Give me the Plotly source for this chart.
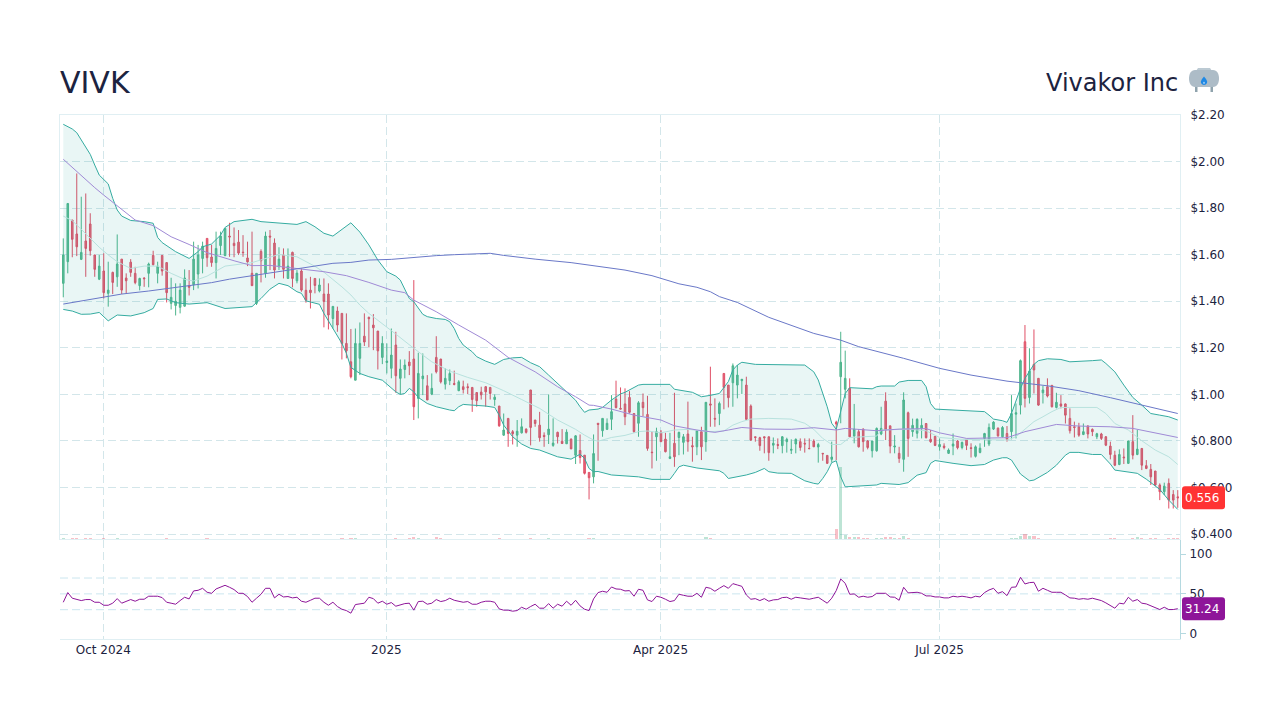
import plotly.graph_objects as go

# Daily OHLC bars, one per trading session
OPEN = [1.477,1.570,1.749,1.689,1.580,1.659,1.732,1.599,1.495,1.530,
1.434,1.524,1.505,1.581,1.500,1.568,1.520,1.467,1.500,1.520,
1.597,1.520,1.597,1.566,1.391,1.382,1.374,1.379,1.467,1.471,
1.517,1.584,1.670,1.590,1.566,1.639,1.596,1.680,1.649,1.654,
1.611,1.586,1.520,1.391,1.614,1.520,1.680,1.650,1.548,1.599,
1.498,1.610,1.488,1.530,1.447,1.448,1.498,1.444,1.431,1.431,
1.326,1.358,1.348,1.219,1.140,1.061,1.155,1.250,1.331,1.298,
1.272,1.159,1.137,1.112,1.212,1.069,1.107,1.139,1.152,0.983,
1.067,1.037,1.001,1.159,1.152,1.044,1.059,1.047,1.016,1.033,
1.033,1.030,1.008,1.010,1.033,1.030,0.978,0.950,0.825,0.897,
0.840,0.825,0.835,0.851,1.019,0.890,0.868,0.824,0.827,0.781,
0.837,0.799,0.788,0.808,0.739,0.759,0.739,0.665,0.646,0.876,
0.844,0.850,0.893,0.980,0.940,0.959,0.987,0.918,0.876,0.966,
0.914,0.752,0.818,0.838,0.808,0.725,0.790,0.815,0.794,0.830,
0.780,0.775,0.840,0.797,0.959,0.897,0.918,1.090,1.040,1.050,
1.040,1.059,1.040,0.950,0.818,0.814,0.818,0.818,0.782,0.785,
0.780,0.797,0.760,0.787,0.797,0.790,0.768,0.800,0.774,0.747,
0.738,0.721,0.881,1.076,1.022,1.026,0.821,0.840,0.851,0.800,
0.758,0.758,0.830,0.971,0.865,0.774,0.747,0.721,0.921,0.840,
0.833,0.854,0.875,0.807,0.820,0.775,0.778,0.747,0.778,0.800,
0.772,0.807,0.771,0.734,0.751,0.811,0.787,0.851,0.855,0.818,
0.832,0.840,0.915,0.954,1.226,0.987,1.129,1.069,1.007,1.033,
1.039,0.944,0.959,0.959,0.897,0.861,0.861,0.828,0.864,0.850,
0.818,0.830,0.818,0.778,0.739,0.699,0.731,0.704,0.797,0.742,
0.768,0.694,0.678,0.671,0.611,0.582,0.618,0.570,0.560]

HIGH = [1.670,1.820,1.749,1.949,1.849,1.863,1.778,1.599,1.599,1.606,
1.570,1.527,1.687,1.581,1.520,1.581,1.548,1.501,1.503,1.566,
1.617,1.570,1.599,1.568,1.501,1.477,1.477,1.537,1.534,1.656,
1.642,1.656,1.670,1.642,1.699,1.699,1.713,1.737,1.717,1.706,
1.684,1.656,1.699,1.520,1.623,1.699,1.706,1.670,1.632,1.627,
1.627,1.613,1.534,1.541,1.498,1.505,1.498,1.498,1.498,1.477,
1.378,1.377,1.348,1.348,1.281,1.283,1.309,1.348,1.334,1.345,
1.272,1.250,1.219,1.283,1.269,1.150,1.150,1.186,1.491,1.179,
1.176,1.083,1.090,1.250,1.152,1.112,1.107,1.102,1.061,1.059,
1.047,1.030,1.008,1.033,1.036,1.030,1.000,0.950,0.918,0.897,
0.847,0.890,0.897,0.854,1.019,0.890,0.925,0.837,1.000,0.897,
0.840,0.851,0.850,0.811,0.825,0.828,0.739,0.665,0.828,0.876,
0.897,0.897,0.997,1.059,1.030,1.026,1.014,0.918,0.971,1.004,
0.994,0.840,0.857,0.847,0.835,0.835,1.007,0.840,0.830,0.969,
0.818,0.844,0.861,0.966,1.119,0.983,0.969,1.090,1.040,1.133,
1.126,1.066,1.076,0.957,0.818,0.818,0.818,0.818,0.815,0.811,
0.821,0.814,0.807,0.811,0.811,0.811,0.811,0.807,0.792,0.748,
0.738,0.797,0.887,1.269,1.188,1.069,0.959,0.851,0.854,0.804,
0.800,0.858,0.947,1.009,0.865,0.825,0.775,1.009,0.926,0.896,
0.897,0.897,0.875,0.847,0.820,0.811,0.790,0.768,0.832,0.804,
0.797,0.807,0.790,0.781,0.790,0.835,0.875,0.885,0.858,0.864,
0.864,0.997,0.961,1.150,1.298,1.198,1.279,1.069,1.036,1.069,
1.039,1.007,0.997,0.961,0.940,0.883,0.878,0.875,0.868,0.854,
0.835,0.835,0.821,0.797,0.758,0.764,0.768,0.800,0.911,0.847,
0.768,0.718,0.701,0.671,0.618,0.621,0.639,0.589,0.589]

LOW = [1.417,1.520,1.589,1.594,1.577,1.505,1.596,1.505,1.491,1.412,
1.377,1.431,1.462,1.431,1.434,1.505,1.473,1.447,1.462,1.460,
1.554,1.477,1.510,1.395,1.365,1.339,1.348,1.377,1.425,1.448,
1.455,1.520,1.548,1.548,1.498,1.599,1.594,1.591,1.589,1.599,
1.591,1.551,1.467,1.384,1.481,1.501,1.534,1.498,1.534,1.498,
1.498,1.460,1.477,1.441,1.394,1.369,1.434,1.438,1.288,1.279,
1.283,1.269,1.150,1.155,1.069,1.061,1.083,1.208,1.202,1.190,
1.107,1.130,1.090,1.069,1.007,1.000,1.069,1.083,0.890,0.897,
0.997,0.997,0.997,1.090,1.047,1.021,1.040,1.039,1.014,1.004,
1.001,0.925,0.947,0.978,0.947,0.978,0.951,0.861,0.822,0.775,
0.785,0.775,0.832,0.832,0.781,0.861,0.797,0.775,0.787,0.775,
0.789,0.787,0.787,0.765,0.701,0.703,0.656,0.549,0.618,0.715,
0.818,0.847,0.847,0.940,0.937,0.868,0.918,0.835,0.818,0.907,
0.758,0.682,0.715,0.797,0.751,0.722,0.689,0.739,0.742,0.754,
0.711,0.739,0.718,0.754,0.861,0.861,0.868,0.936,0.944,0.947,
0.983,1.002,0.890,0.800,0.797,0.758,0.747,0.715,0.747,0.765,
0.747,0.750,0.744,0.747,0.758,0.750,0.765,0.775,0.707,0.715,
0.701,0.708,0.718,0.876,0.983,0.818,0.790,0.772,0.754,0.764,
0.729,0.754,0.825,0.804,0.747,0.747,0.706,0.668,0.732,0.818,
0.811,0.811,0.811,0.792,0.778,0.758,0.764,0.744,0.739,0.764,
0.764,0.761,0.729,0.729,0.747,0.775,0.778,0.847,0.818,0.815,
0.797,0.807,0.811,0.914,0.944,0.961,1.004,0.951,0.961,0.987,
0.944,0.940,0.940,0.875,0.832,0.815,0.818,0.825,0.811,0.821,
0.808,0.804,0.778,0.721,0.692,0.696,0.701,0.701,0.721,0.739,
0.675,0.679,0.611,0.606,0.546,0.568,0.510,0.510,0.513]

CLOSE = [1.599,1.820,1.666,1.634,1.610,1.627,1.617,1.537,1.551,1.437,
1.448,1.481,1.560,1.448,1.488,1.524,1.480,1.498,1.497,1.560,
1.557,1.551,1.530,1.437,1.417,1.400,1.448,1.500,1.460,1.581,
1.599,1.637,1.587,1.566,1.627,1.680,1.713,1.676,1.639,1.607,
1.609,1.569,1.467,1.520,1.574,1.680,1.676,1.534,1.581,1.537,
1.551,1.498,1.521,1.448,1.405,1.437,1.468,1.470,1.399,1.341,
1.378,1.298,1.219,1.187,1.076,1.219,1.219,1.225,1.325,1.286,
1.187,1.219,1.143,1.169,1.080,1.109,1.126,1.123,0.947,1.090,
1.079,0.976,1.026,1.097,1.054,1.069,1.090,1.043,1.054,1.021,
1.029,0.978,0.973,0.998,1.011,1.004,0.988,0.865,0.847,0.832,
0.831,0.842,0.861,0.837,0.858,0.875,0.814,0.819,0.851,0.791,
0.818,0.789,0.838,0.766,0.822,0.729,0.661,0.642,0.746,0.871,
0.897,0.876,0.926,0.943,0.937,0.904,0.923,0.840,0.964,0.943,
0.768,0.750,0.840,0.797,0.754,0.732,0.732,0.837,0.818,0.797,
0.775,0.844,0.775,0.966,0.954,0.894,0.961,1.030,0.986,1.123,
1.083,1.065,0.893,0.804,0.815,0.780,0.814,0.750,0.790,0.781,
0.818,0.807,0.764,0.807,0.772,0.787,0.767,0.775,0.785,0.745,
0.704,0.731,0.873,1.138,1.069,0.818,0.851,0.775,0.797,0.772,
0.800,0.854,0.854,0.847,0.778,0.778,0.725,0.976,0.811,0.867,
0.893,0.867,0.814,0.797,0.781,0.785,0.772,0.761,0.787,0.771,
0.794,0.781,0.768,0.775,0.769,0.832,0.858,0.881,0.822,0.858,
0.807,0.918,0.921,1.145,0.983,1.100,1.105,0.954,1.019,0.993,
0.947,0.966,0.950,0.911,0.844,0.858,0.825,0.840,0.830,0.840,
0.831,0.811,0.782,0.742,0.696,0.742,0.728,0.800,0.739,0.765,
0.696,0.682,0.646,0.611,0.582,0.606,0.546,0.546,0.556]

# Share volume in millions
VOLUME = [0.06,0.05,0.06,0.06,0.05,0.06,0.06,0.05,0.05,0.06,
0.05,0.05,0.06,0.05,0.05,0.05,0.05,0.05,0.05,0.05,
0.05,0.05,0.05,0.06,0.05,0.05,0.05,0.05,0.05,0.05,
0.05,0.05,0.06,0.05,0.05,0.05,0.05,0.05,0.05,0.05,
0.05,0.05,0.05,0.05,0.05,0.05,0.05,0.05,0.05,0.05,
0.05,0.05,0.05,0.05,0.05,0.05,0.05,0.05,0.05,0.05,
0.05,0.05,0.06,0.05,0.06,0.06,0.05,0.05,0.05,0.05,
0.05,0.05,0.05,0.05,0.06,0.05,0.05,0.06,0.20,0.06,
0.05,0.05,0.05,0.20,0.06,0.05,0.05,0.05,0.05,0.05,
0.05,0.05,0.05,0.05,0.05,0.05,0.05,0.06,0.05,0.05,
0.05,0.05,0.05,0.05,0.06,0.05,0.05,0.05,0.06,0.05,
0.05,0.05,0.05,0.05,0.05,0.05,0.05,0.06,0.06,0.05,
0.05,0.05,0.05,0.05,0.05,0.05,0.05,0.05,0.05,0.05,
0.05,0.05,0.05,0.05,0.05,0.05,0.05,0.05,0.05,0.05,
0.05,0.05,0.05,0.18,0.06,0.05,0.05,0.05,0.05,0.05,
0.05,0.05,0.05,0.05,0.05,0.05,0.05,0.05,0.05,0.05,
0.05,0.05,0.05,0.05,0.05,0.05,0.05,0.05,0.05,0.05,
0.05,0.05,1.00,7.20,0.40,0.20,0.20,0.20,0.06,0.06,
0.05,0.10,0.15,0.25,0.25,0.06,0.06,0.35,0.15,0.05,
0.05,0.05,0.05,0.05,0.05,0.05,0.05,0.05,0.05,0.05,
0.05,0.05,0.05,0.05,0.05,0.05,0.05,0.05,0.05,0.05,
0.05,0.15,0.06,0.30,0.50,0.30,0.30,0.15,0.05,0.05,
0.05,0.05,0.05,0.05,0.05,0.05,0.05,0.05,0.05,0.05,
0.05,0.05,0.05,0.15,0.15,0.05,0.05,0.05,0.15,0.25,
0.10,0.05,0.15,0.15,0.05,0.05,0.15,0.15,0.06]

# Relative strength index, one reading per session
RSI = [39.4,51.6,44.5,42.8,41.5,42.8,42.8,39.4,39.4,35.6,
35.6,38.2,44.0,38.2,40.3,42.8,40.7,43.2,43.2,47.0,
47.0,47.0,45.3,39.4,38.2,36.9,41.5,45.7,43.6,53.7,
54.5,57.0,52.0,50.7,56.2,58.7,60.8,58.3,55.4,50.7,
50.7,46.6,39.4,44.5,49.5,57.0,57.0,44.9,49.5,46.1,
46.6,44.9,45.7,40.7,39.4,41.9,44.5,44.5,39.4,35.6,
39.4,34.0,30.6,28.9,25.6,36.5,36.9,38.2,45.7,44.0,
38.2,40.7,36.9,39.0,34.4,36.1,37.7,38.2,29.4,40.3,
40.7,36.9,38.2,42.8,40.3,41.5,44.5,41.9,41.1,39.4,
40.3,36.9,36.9,39.4,40.7,40.7,39.4,31.0,29.4,29.4,
28.1,28.9,33.1,30.6,34.0,36.9,31.9,31.9,37.7,31.9,
36.9,34.4,40.7,35.6,41.9,34.8,30.6,28.9,43.6,51.6,
53.3,52.0,58.7,56.2,55.8,53.7,54.1,47.0,55.8,54.5,
42.4,40.3,47.0,45.7,43.2,40.3,41.5,49.5,48.2,47.0,
47.0,50.7,45.7,58.3,57.0,53.3,57.0,60.4,57.0,62.9,
61.2,59.5,48.6,43.2,44.0,41.5,44.0,40.7,42.4,42.8,
45.3,45.7,43.2,45.7,44.9,44.5,43.2,44.5,45.7,41.9,
38.2,44.5,54.1,68.8,63.3,49.5,49.9,45.7,47.0,45.7,
46.6,50.7,50.7,50.7,46.1,45.7,41.9,58.3,51.2,52.0,
52.0,50.7,47.4,47.4,46.1,46.1,44.9,44.9,47.0,46.1,
47.0,46.1,44.9,47.0,46.1,51.6,54.9,57.0,50.7,52.8,
47.8,58.3,58.7,70.9,62.5,64.2,64.6,53.3,57.0,54.5,
52.0,52.0,52.0,48.6,44.9,44.5,43.2,44.0,43.2,44.5,
42.8,41.5,38.6,35.2,31.9,38.2,37.3,45.7,40.7,42.8,
38.2,37.3,34.8,32.3,30.2,33.1,30.2,30.2,31.24]

# Bollinger upper band: session number and level
BB_UPPER_X = [0,2,3,4,6,7,8,10,11,12,13,15,18,20,21,22,25,28,30,31,33,35,36,38,42,44,47,52,54,56,58,60,64,66,68,
70,72,74,75,76,77,78,79,80,81,83,85,86,87,88,89,91,92,94,96,98,100,101,102,104,106,108,110,112,114,115,116,117,119,
120,122,124,125,128,129,135,136,140,142,144,146,148,149,150,151,154,160,165,167,168,170,171,172,173,174,175,180,181,
182,185,186,188,191,192,193,194,200,205,206,207,209,210,211,213,214,216,217,219,222,224,229,231,232,234,236,238,240,242,244,246,248]
BB_UPPER = [2.160,2.140,2.124,2.093,2.031,1.985,1.942,1.904,1.842,1.792,1.766,1.747,1.742,1.735,1.674,1.652,1.613,1.584,1.613,1.634,1.646,1.684,1.717,1.742,1.752,1.742,1.737,1.730,1.742,1.720,1.692,1.680,1.737,1.697,1.642,
1.577,1.527,1.508,1.491,1.448,1.412,1.398,1.369,1.344,1.334,1.326,1.322,1.312,1.283,1.240,1.212,1.183,1.162,1.143,1.129,1.150,1.157,1.159,1.159,1.136,1.119,1.083,1.047,1.008,0.975,0.947,0.923,0.933,0.937,
0.944,0.976,1.002,1.009,1.040,1.043,1.043,1.022,1.009,0.990,0.996,1.004,1.055,1.105,1.126,1.138,1.129,1.129,1.126,1.097,1.062,0.947,0.876,0.850,0.933,1.004,1.029,1.024,1.033,
1.036,1.036,1.053,1.060,1.060,1.033,0.961,0.937,0.931,0.926,0.911,0.894,0.887,0.880,0.918,1.026,1.069,1.129,1.145,1.153,1.150,1.140,1.145,1.148,1.133,1.097,1.040,0.987,0.954,0.918,0.911,0.904,0.890]

# Bollinger lower band
BB_LOWER_X = [0,2,4,6,8,10,12,15,18,20,21,23,25,28,32,36,42,44,46,48,50,52,53,54,57,58,62,63,64,66,68,71,74,75,76,77,78,79,81,83,86,87,88,89,91,94,96,97,98,100,102,104,106,108,110,113,115,116,117,118,119,
122,125,128,131,135,136,137,138,141,146,147,148,150,152,154,156,157,159,162,165,167,168,169,170,171,172,173,174,181,
182,186,188,190,192,193,194,198,202,205,207,209,210,211,213,215,216,219,221,223,224,226,229,231,233,234,239,241,244,246,248]
BB_LOWER = [1.365,1.358,1.344,1.345,1.352,1.316,1.341,1.337,1.351,1.369,1.408,1.410,1.394,1.388,1.394,1.369,1.377,1.412,1.452,1.477,1.467,1.441,1.434,1.402,1.387,1.348,1.219,1.176,1.116,1.090,1.076,1.061,1.011,1.000,1.004,1.026,1.011,0.987,0.961,0.947,0.933,0.930,0.947,0.957,0.954,0.950,0.944,0.911,0.868,0.818,0.787,0.768,0.761,0.746,0.732,0.722,0.743,0.725,0.682,0.668,0.669,
0.654,0.649,0.646,0.635,0.635,0.661,0.689,0.696,0.684,0.672,0.661,0.639,0.645,0.654,0.665,0.682,0.668,0.662,0.661,0.629,0.618,0.615,0.639,0.668,0.707,0.715,0.646,0.603,0.611,
0.618,0.613,0.621,0.653,0.664,0.704,0.716,0.704,0.694,0.699,0.718,0.728,0.728,0.718,0.658,0.629,0.632,0.665,0.696,0.739,0.751,0.751,0.742,0.742,0.701,0.675,0.661,0.636,0.592,0.546,0.506]

# Bollinger middle band
BB_MID_X = [0,2,4,6,8,10,12,15,18,21,24,27,29,32,36,42,44,48,52,56,58,60,62,64,66,68,71,74,78,82,86,90,94,98,102,106,110,114,116,118,119,
120,122,125,128,130,133,136,139,144,147,149,151,153,157,162,165,167,169,171,173,175,178,181,
182,188,192,195,200,205,210,212,214,216,218,220,222,226,230,232,234,237,240,243,246,248]
BB_MID = [1.766,1.746,1.709,1.670,1.632,1.599,1.570,1.541,1.551,1.551,1.520,1.494,1.487,1.508,1.551,1.566,1.577,1.601,1.591,1.550,1.525,1.495,1.462,1.427,1.384,1.348,1.305,1.259,1.198,1.140,1.100,1.073,1.050,1.016,0.978,0.940,0.890,0.850,0.825,0.804,0.799,
0.804,0.815,0.824,0.840,0.843,0.835,0.847,0.850,0.840,0.843,0.868,0.883,0.894,0.897,0.894,0.876,0.850,0.811,0.785,0.785,0.815,0.818,0.821,
0.847,0.851,0.844,0.815,0.807,0.807,0.804,0.818,0.850,0.883,0.904,0.926,0.944,0.943,0.944,0.918,0.875,0.847,0.801,0.761,0.732,0.699]

# 50-session moving average
SMA50_X = [0,3,7,9,12,16,20,24,28,32,38,42,46,52,58,63,68,73,76,78,83,88,94,99,105,110,114,117,
118,122,127,133,136,141,145,148,151,156,162,167,172,174,181,186,192,195,201,210,214,221,226,233,238,248]
SMA50 = [2.010,1.957,1.888,1.856,1.810,1.749,1.725,1.677,1.644,1.609,1.574,1.553,1.554,1.541,1.527,1.510,1.481,1.448,1.437,1.405,1.355,1.298,1.233,1.159,1.097,1.033,0.990,0.954,
0.953,0.937,0.911,0.890,0.865,0.847,0.837,0.847,0.858,0.851,0.850,0.857,0.847,0.854,0.844,0.851,0.853,0.835,0.811,0.814,0.840,0.871,0.864,0.861,0.854,0.815]

# 200-session moving average
SMA200_X = [0,7,13,19,27,33,37,43,49,55,60,64,68,73,78,83,87,91,95,98,105,113,120,125,131,133,137,141,144,146,150,157,162,167,173,177,187,195,202,210,219,226,233,248]
SMA200 = [1.388,1.412,1.431,1.444,1.465,1.480,1.495,1.513,1.531,1.546,1.563,1.567,1.577,1.580,1.589,1.596,1.600,1.602,1.606,1.597,1.581,1.566,1.548,1.534,1.510,1.499,1.475,1.460,1.441,1.420,1.395,1.331,1.298,1.262,1.233,1.205,1.155,1.112,1.083,1.057,1.037,1.016,0.986,0.918]

PRICE_TICKS = [0.4,0.6,0.8,1.0,1.2,1.4,1.6,1.8,2.0,2.2]
PRICE_LABELS = ["$0.400","$0.600","$0.800","$1.00","$1.20","$1.40","$1.60","$1.80","$2.00","$2.20"]
RSI_TICKS = [0,50,100]
RSI_BANDS = [30,50,70]
# Month boundaries fall between sessions, hence the fractional positions
DATE_TICKS = [8.9,71.9,132.9,195.0]
DATE_LABELS = ["Oct 2024","2025","Apr 2025","Jul 2025"]

TITLE = "VIVK"
COMPANY = "Vivakor Inc"

INK = "#1c2340"
GRID = "#d3e6ea"
FRAME = "#e0eff3"
UP = "#4db58c"
DOWN = "#e04f66"
UP_FILL = "#63bb97"
DOWN_FILL = "#e26a7e"
BAND = "#35aca1"
RSI_COLOR = "#8e1599"

sessions = list(range(len(CLOSE)))

fig = go.Figure()

# Band fill is a closed polygon running along the lower edge and back along the upper edge
fig.add_trace(go.Scatter(
    x=BB_LOWER_X + BB_UPPER_X[::-1], y=BB_LOWER + BB_UPPER[::-1],
    mode="lines", line=dict(width=0), fill="toself",
    fillcolor="rgba(38,166,154,0.10)", hoverinfo="skip", showlegend=False))

fig.add_trace(go.Candlestick(
    x=sessions, open=OPEN, high=HIGH, low=LOW, close=CLOSE,
    increasing=dict(line=dict(color=UP, width=1), fillcolor=UP_FILL),
    decreasing=dict(line=dict(color=DOWN, width=1), fillcolor=DOWN_FILL),
    whiskerwidth=0, hoverinfo="skip", showlegend=False, xaxis="x", yaxis="y"))

for xs, ys, color in [
    (BB_MID_X, BB_MID, "#b8e2de"),
    (BB_UPPER_X, BB_UPPER, BAND),
    (BB_LOWER_X, BB_LOWER, BAND),
    (SMA50_X, SMA50, "#a08ad6"),
    (SMA200_X, SMA200, "#6a78c8"),
]:
    fig.add_trace(go.Scatter(x=xs, y=ys, mode="lines", line=dict(color=color, width=1),
                             hoverinfo="skip", showlegend=False, xaxis="x", yaxis="y"))

volume_colors = ["rgba(67,179,135,0.35)" if c >= o else "rgba(236,90,110,0.38)"
                 for o, c in zip(OPEN, CLOSE)]
fig.add_trace(go.Bar(x=sessions, y=VOLUME, marker=dict(color=volume_colors, line=dict(width=0)),
                     width=0.72, hoverinfo="skip", showlegend=False, xaxis="x", yaxis="y3"))

fig.add_trace(go.Scatter(x=sessions, y=RSI, mode="lines", line=dict(color=RSI_COLOR, width=1),
                         hoverinfo="skip", showlegend=False, xaxis="x2", yaxis="y2"))

x_range = [-0.73, 248.5]
grid_x = dict(range=x_range, showgrid=True, gridcolor=GRID, griddash="8px,4px", gridwidth=1,
              tickmode="array", tickvals=DATE_TICKS, ticktext=DATE_LABELS, zeroline=False,
              rangeslider=dict(visible=False), fixedrange=True)


def tag_path(left, right, half, r=3):
    return (f"M {left + r} {-half} L {right - r} {-half} Q {right} {-half} {right} {-half + r} "
            f"L {right} {half - r} Q {right} {half} {right - r} {half} L {left + r} {half} "
            f"Q {left} {half} {left} {half - r} L {left} {-half + r} Q {left} {-half} {left + r} {-half} Z")


shapes = []
for band in RSI_BANDS:
    shapes.append(dict(type="line", xref="paper", x0=0, x1=1, yref="y2", y0=band, y1=band,
                       line=dict(color="#cbe6ef", width=1, dash="8px,4px"), layer="below"))

# Last-value tags sitting just outside the right edge of each pane
shapes.append(dict(type="path", xref="paper", xsizemode="pixel", xanchor=1, yref="y", ysizemode="pixel",
                   yanchor=CLOSE[-1], path=tag_path(2, 45, 11.5), fillcolor="#ff3333", line=dict(width=0)))
shapes.append(dict(type="path", xref="paper", xsizemode="pixel", xanchor=1, yref="y2", ysizemode="pixel",
                   yanchor=RSI[-1], path=tag_path(2, 45, 11.5), fillcolor=RSI_COLOR, line=dict(width=0)))

# Storage-tank emblem next to the company name
emblem_x = (1204 - 60) / 1120
emblem_y = (639 - 81) / 524
def emblem(path, color):
    return dict(type="path", xref="paper", xsizemode="pixel", xanchor=emblem_x,
                yref="paper", ysizemode="pixel", yanchor=emblem_y, path=path,
                fillcolor=color, line=dict(width=0))
shapes += [
    emblem("M -9 -5 L -6.5 -5 L -6.5 -11 L -9 -11 Z", "#8fa3ad"),
    emblem("M 6.5 -5 L 9 -5 L 9 -11 L 6.5 -11 Z", "#8fa3ad"),
    emblem("M -6 13 L 6 13 L 8 10 L -8 10 Z", "#bccad3"),
    emblem("M -9 11 L 9 11 C 13 11 15 7 15 2.5 C 15 -2 13 -6 9 -6 L -9 -6 C -13 -6 -15 -2 -15 2.5 C -15 7 -13 11 -9 11 Z", "#adbcc7"),
    emblem("M 0 4.5 Q 4 0 3 -2 Q 2 -4 0 -4 Q -2 -4 -3 -2 Q -4 0 0 4.5 Z", "#1e88e5"),
    emblem("M 0 -0.5 Q 1.4 -2 0 -3 Q -1.4 -2 0 -0.5 Z", "#ffffff"),
]

annotations = [
    dict(text=TITLE, xref="paper", yref="paper", x=-2 / 1120, y=(639 - 83) / 524, xanchor="left", yanchor="middle",
         showarrow=False, font=dict(size=30, color=INK)),
    dict(text=COMPANY, xref="paper", yref="paper", x=(1180 - 60) / 1120, y=(639 - 83) / 524,
         xanchor="right", yanchor="middle", showarrow=False, font=dict(size=24, color=INK)),
    dict(text=f"{CLOSE[-1]:.3f}", xref="paper", yref="y", x=(1202 - 60) / 1120, y=CLOSE[-1],
         xanchor="center", yanchor="middle", showarrow=False, font=dict(size=12, color="#ffffff")),
    dict(text=f"{RSI[-1]:.2f}", xref="paper", yref="y2", x=(1202 - 60) / 1120, y=RSI[-1],
         xanchor="center", yanchor="middle", showarrow=False, font=dict(size=12, color="#ffffff")),
]

fig.update_layout(
    width=1280, height=720, autosize=False,
    margin=dict(l=60, r=100, t=115, b=81, pad=0),
    paper_bgcolor="#ffffff", plot_bgcolor="#ffffff",
    font=dict(family="DejaVu Sans", size=12, color=INK),
    showlegend=False, bargap=0, boxgap=0.5, hovermode=False, dragmode=False,
    xaxis=dict(domain=[0, 1], anchor="y", matches="x2", showticklabels=False, ticks="",
               showline=True, linecolor=FRAME, mirror=True, **grid_x),
    xaxis2=dict(domain=[0, 1], anchor="y2", showticklabels=True, ticks="", ticklen=0,
                showline=True, linecolor=FRAME, linewidth=1, **grid_x),
    yaxis=dict(domain=[100 / 524, 1], side="right", anchor="x", range=[0.379, 2.2], tickmode="array",
               tickvals=PRICE_TICKS, ticktext=PRICE_LABELS, showgrid=True, gridcolor=GRID,
               griddash="8px,4px", zeroline=False, ticks="outside", ticklen=7, tickcolor="rgba(0,0,0,0)",
               showline=True, linecolor=FRAME, mirror=True, fixedrange=True),
    yaxis2=dict(domain=[0, 99 / 524], side="right", anchor="x2", range=[-7, 118], tickmode="array",
                tickvals=RSI_TICKS, showgrid=False, zeroline=False, ticks="outside", ticklen=5,
                tickcolor="#b5d9e0", showline=True, linecolor="#b5d9e0", fixedrange=True,
                ticklabelstandoff=1),
    yaxis3=dict(domain=[100 / 524, 1], overlaying="y", anchor="x", side="left", range=[0, 42.4],
                visible=False, fixedrange=True),
    shapes=shapes, annotations=annotations,
)

fig.write_html("out.html")
